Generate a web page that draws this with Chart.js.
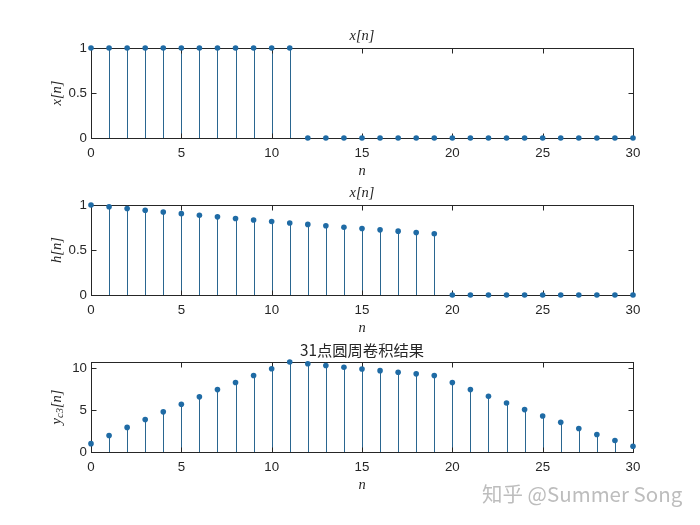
<!DOCTYPE html>
<html>
<head>
<meta charset="utf-8">
<script src="https://cdn.jsdelivr.net/npm/chart.js@4.4.1/dist/chart.umd.min.js"></script>
<style>
  html, body { margin: 0; padding: 0; background: #fff; }
  #wrap { position: relative; width: 700px; height: 525px; overflow: hidden; }
  canvas { position: absolute; left: 0; }
  #mark { position: absolute; left: 482px; top: 478px; font: 20.5px 'Noto Sans CJK SC', sans-serif;
          color: #bdbdbd; white-space: nowrap; }
</style>
</head>
<body>
<div id="wrap">
  <canvas id="c1" width="700" height="185" style="top:0px"></canvas>
  <canvas id="c2" width="700" height="185" style="top:157px"></canvas>
  <canvas id="c3" width="700" height="185" style="top:314px"></canvas>
  <div id="mark">知乎 @Summer Song</div>
</div>
<script>
// sample index
const n = [0, 1, 2, 3, 4, 5, 6, 7, 8, 9, 10, 11, 12, 13, 14, 15,
           16, 17, 18, 19, 20, 21, 22, 23, 24, 25, 26, 27, 28, 29, 30];

// x[n]: rectangular pulse, 12 ones
const xVals = [1, 1, 1, 1, 1, 1, 1, 1, 1, 1, 1, 1, 0, 0, 0, 0,
               0, 0, 0, 0, 0, 0, 0, 0, 0, 0, 0, 0, 0, 0, 0];

// h[n]: decaying sequence, 20 samples
const hVals = [1, 0.98, 0.9604, 0.9412, 0.9224, 0.9039, 0.8858, 0.8681, 0.8508, 0.8337,
               0.8171, 0.8007, 0.7847, 0.769, 0.7536, 0.7386, 0.7238, 0.7093, 0.6951, 0.6812,
               0, 0, 0, 0, 0, 0, 0, 0, 0, 0, 0];

// 31-point circular convolution
const yVals = [1, 1.98, 2.9404, 3.8816, 4.804, 5.7079, 6.5937, 7.4618, 8.3126, 9.1463,
               9.9634, 10.7641, 10.5488, 10.3378, 10.131, 9.9284, 9.7298, 9.5352, 9.3445, 9.1576,
               8.3068, 7.4731, 6.656, 5.8553, 5.0706, 4.3016, 3.548, 2.8094, 2.0856, 1.3763, 0.6812];

const xTicks = [0, 5, 10, 15, 20, 25, 30];
const yTicksUnit = [0, 0.5, 1];
const yTicksConv = [0, 5, 10];

const AX = '#262626';
const MARK = '#1f6ba5';
const STEM = '#2a6690';
const mathFont = { family: "'Liberation Serif', serif", style: 'italic', weight: 'normal', size: 14.5 };
const tickFont = { family: "'Liberation Sans', Arial, sans-serif", size: 13.3 };

// stems + MATLAB-style box with inward ticks
const stemBox = {
  id: 'stemBox',
  beforeDatasetsDraw(chart) {
    const { ctx, chartArea: a, scales: { x, y } } = chart;
    ctx.save();
    ctx.strokeStyle = STEM;
    ctx.lineWidth = 1;
    const pts = chart.data.datasets[0].data;
    const y0 = y.getPixelForValue(0);
    pts.forEach(p => {
      const px = Math.round(x.getPixelForValue(p.x)) + 0.5;
      ctx.beginPath();
      ctx.moveTo(px, y0);
      ctx.lineTo(px, y.getPixelForValue(p.y));
      ctx.stroke();
    });
    ctx.strokeStyle = AX;
    ctx.lineWidth = 1;
    const L = Math.round(a.left) + 0.5, R = Math.round(a.right) + 0.5;
    const T = Math.round(a.top) + 0.5, B = Math.round(a.bottom) + 0.5;
    ctx.strokeRect(L, T, R - L, B - T);
    const tl = 5;
    ctx.beginPath();
    x.ticks.forEach(t => {
      const px = Math.round(x.getPixelForValue(t.value)) + 0.5;
      ctx.moveTo(px, B); ctx.lineTo(px, B - tl);
      ctx.moveTo(px, T); ctx.lineTo(px, T + tl);
    });
    y.ticks.forEach(t => {
      const py = Math.round(y.getPixelForValue(t.value)) + 0.5;
      ctx.moveTo(L, py); ctx.lineTo(L + tl, py);
      ctx.moveTo(R, py); ctx.lineTo(R - tl, py);
    });
    ctx.stroke();
    ctx.restore();
  }
};

// y label with subscript, drawn rotated
const subLabel = {
  id: 'subLabel',
  afterDraw(chart, args, opts) {
    if (!opts.main) return;
    const { ctx, chartArea: a } = chart;
    const big = "italic 14.5px 'Liberation Serif', serif";
    const small = "italic 10.5px 'Liberation Serif', serif";
    ctx.save();
    ctx.translate(opts.cx, (a.top + a.bottom) / 2);
    ctx.rotate(-Math.PI / 2);
    ctx.fillStyle = AX;
    ctx.textBaseline = 'middle';
    ctx.textAlign = 'left';
    ctx.font = big;
    const w1 = ctx.measureText(opts.main).width;
    const w3 = ctx.measureText(opts.tail).width;
    ctx.font = small;
    const w2 = ctx.measureText(opts.sub).width;
    let pos = -(w1 + w2 + w3) / 2;
    ctx.font = big;
    ctx.fillText(opts.main, pos, 0); pos += w1;
    ctx.font = small;
    ctx.fillText(opts.sub, pos, 4); pos += w2;
    ctx.font = big;
    ctx.fillText(opts.tail, pos, 0);
    ctx.restore();
  }
};

function stemChart(id, values, opt) {
  const pts = n.map((v, i) => ({ x: v, y: values[i] }));
  const ctx = document.getElementById(id).getContext('2d');
  return new Chart(ctx, {
    type: 'scatter',
    data: {
      datasets: [{
        data: pts,
        pointRadius: 2.8,
        pointHoverRadius: 2.8,
        pointBackgroundColor: MARK,
        pointBorderWidth: 0,
        showLine: false,
        clip: false
      }]
    },
    options: {
      responsive: false,
      animation: false,
      devicePixelRatio: 1,
      events: [],
      layout: { padding: { left: 0, right: 67, top: 0, bottom: 0 } },
      plugins: {
        legend: { display: false },
        tooltip: { enabled: false },
        title: {
          display: true,
          fullSize: false,
          text: opt.title,
          color: AX,
          font: opt.titleFont,
          padding: { top: opt.titleTop, bottom: 48 - opt.titleTop - opt.titleFont.size * 1.2 }
        },
        subLabel: opt.subLabel || {}
      },
      scales: {
        x: {
          type: 'linear',
          min: 0,
          max: 30,
          grid: { display: false, drawTicks: false },
          border: { display: false },
          afterBuildTicks: s => { s.ticks = xTicks.map(v => ({ value: v })); },
          afterFit: s => { s.height = 47; },
          ticks: { color: AX, font: tickFont, padding: 7.5, maxRotation: 0, callback: v => String(v) },
          title: { display: true, text: 'n', color: AX, font: mathFont, padding: { top: 0, bottom: 5.6 } }
        },
        y: {
          type: 'linear',
          min: 0,
          max: opt.ymax,
          grid: { display: false, drawTicks: false },
          border: { display: false },
          afterBuildTicks: s => { s.ticks = opt.yTicks.map(v => ({ value: v })); },
          afterFit: s => { s.width = 91; },
          ticks: { color: AX, font: tickFont, padding: 4, callback: v => String(v) },
          title: { display: !!opt.ylabel, text: opt.ylabel, color: AX, font: mathFont, padding: { top: 48, bottom: 0 } }
        }
      }
    },
    plugins: [stemBox, subLabel]
  });
}

stemChart('c1', xVals, { title: 'x[n]', titleFont: mathFont, titleTop: 27.8, ylabel: 'x[n]', ymax: 1, yTicks: yTicksUnit });
stemChart('c2', hVals, { title: 'x[n]', titleFont: mathFont, titleTop: 27.8, ylabel: 'h[n]', ymax: 1, yTicks: yTicksUnit });
stemChart('c3', yVals, {
  title: '31点圆周卷积结果',
  titleFont: { family: "'Noto Sans CJK SC', sans-serif", weight: 'normal', size: 15.3 },
  titleTop: 26.6,
  ylabel: '', ymax: 10.7641, yTicks: yTicksConv,
  subLabel: { main: 'y', sub: 'c3', tail: '[n]', cx: 56.7 }
});
</script>
</body>
</html>
